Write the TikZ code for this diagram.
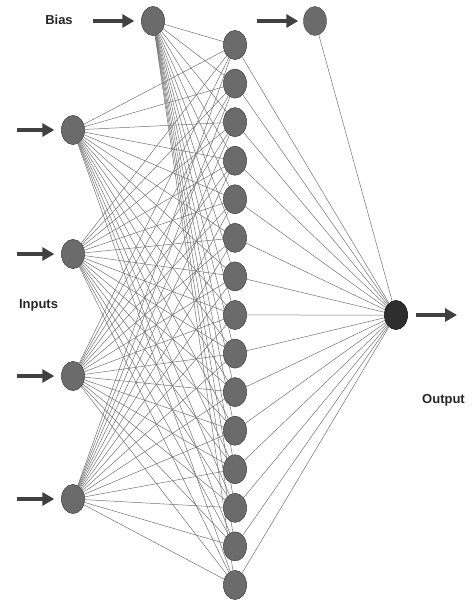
\documentclass[tikz,border=0pt]{standalone}
\usepackage{fontspec}
\setmainfont{Liberation Sans}
\usetikzlibrary{arrows.meta,shapes.geometric}
\begin{document}
\begin{tikzpicture}[x=1pt,y=-1pt,
  neuron/.style={ellipse,draw=black!70,line width=0.4pt,fill=black!58,minimum width=23pt,minimum height=29pt,inner sep=0pt},
  outneuron/.style={neuron,fill=black!82,draw=black!90},
  link/.style={draw=black!55,line width=0.5pt},
  feed/.style={draw=black!75,line width=4.5pt,-{Triangle[length=12pt,width=13pt]}},
  lbl/.style={font=\bfseries\fontsize{13}{14}\selectfont,text=black!85}]
\useasboundingbox (0,0) rectangle (474,606);
% nodes
\node[neuron] (b1) at (153,21) {};
\node[neuron] (b2) at (315,21) {};
\foreach \i/\y in {1/130,2/254,3/376,4/499} \node[neuron] (i\i) at (73,\y) {};
\foreach \k in {1,...,15} \node[neuron] (h\k) at (235,{45+(\k-1)*38.57}) {};
\node[outneuron] (o) at (396,315) {};
% links
\foreach \k in {1,...,15} {
  \draw[link] (b1) -- (h\k);
  \foreach \i in {1,...,4} \draw[link] (i\i) -- (h\k);
  \draw[link] (h\k) -- (o);
}
\draw[link] (b2) -- (o);
\foreach \k in {1,...,15} \node[neuron] at (h\k) {};
\foreach \i in {1,...,4} \node[neuron] at (i\i) {};
\node[neuron] at (b1) {};
\node[outneuron] at (o) {};
% labels and arrows
\node[lbl] (tb) at (59,20) {Bias};
\node[lbl] (ti) at (38.5,305) {Inputs};
\node[lbl] (to) at (443.5,400) {Output};
\coordinate (ab1) at (93,21);
\draw[feed,shorten >=7pt] (ab1) -- (b1.west);
\coordinate (ab2) at (257,21);
\draw[feed,shorten >=5pt] (ab2) -- (b2.west);
\foreach \i in {1,...,4} {
  \coordinate (ai\i) at ([xshift=-56pt]i\i.center);
  \draw[feed,shorten >=7pt] (ai\i) -- (i\i.west);
}
\coordinate (ao) at (457,315);
\draw[feed] ([xshift=8pt]o.east) -- (ao);
\end{tikzpicture}
\end{document}
